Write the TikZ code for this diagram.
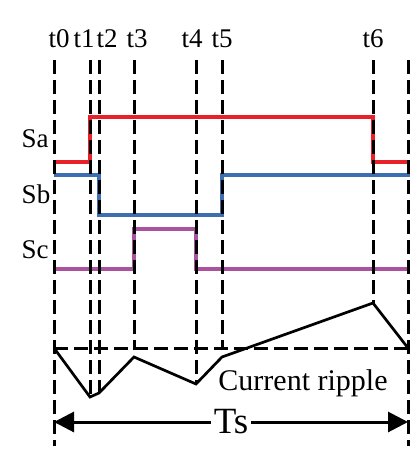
\documentclass[tikz,border=0pt]{standalone}
\usepackage{fontspec}
\setmainfont{Liberation Serif}
\usetikzlibrary{arrows.meta}
\definecolor{sred}{RGB}{232,32,40}
\definecolor{sblue}{RGB}{62,110,178}
\definecolor{spurple}{RGB}{170,82,158}
\begin{document}
\begin{tikzpicture}[x=1pt,y=-1pt,
  vdash/.style={line width=3pt, dash pattern=on 14pt off 6pt},
  sig/.style={line width=4pt, line join=miter},
  lbl/.style={anchor=base, inner sep=0pt, font=\fontsize{27pt}{30pt}\selectfont},
  ripple/.style={line width=2.7pt, line join=miter}]
\useasboundingbox (0,0) rectangle (410,474);
% signals
\draw[sig, sred] (54,162) -- (90,162) -- (90,117) -- (373,117) -- (373,162) -- (410,162);
\draw[sig, sblue] (54,175) -- (99,175) -- (99,215) -- (222,215) -- (222,175) -- (410,175);
\draw[sig, spurple] (54,269) -- (134,269) -- (134,229) -- (196,229) -- (196,269) -- (410,269);
% ripple points
\coordinate (r0) at (54,348);
\coordinate (r1) at (90,397);
\coordinate (r2) at (99,393);
\coordinate (r3) at (134,357);
\coordinate (r4) at (196,384);
\coordinate (r5) at (222,357);
\coordinate (r6) at (373,303);
\coordinate (r7) at (408,348);
% vertical dashed lines
\draw[vdash] (54,60) -- (54,446);
\draw[vdash] (408,60) -- (408,446);
\draw[vdash] (90,60) -- (r1);
\draw[vdash] (99,60) -- (r2);
\draw[vdash] (134,60) -- (134,350);
\draw[vdash] (196,60) -- (r4);
\draw[vdash] (222,60) -- (222,350);
\draw[vdash] (373,60) -- (r6);
% horizontal dashed line
\draw[vdash] (r0) -- (r7);
% ripple
\draw[ripple] (r0) -- (r1) -- (r2) -- (r3) -- (r4) -- (r5) -- (r6) -- (r7);
% labels
\node[lbl] (t0) at (59,47) {t0};
\node[lbl] (t1) at (84,47) {t1};
\node[lbl] (t2) at (107,47) {t2};
\node[lbl] (t3) at (137,47) {t3};
\node[lbl] (t4) at (192,47) {t4};
\node[lbl] (t5) at (222,47) {t5};
\node[lbl] (t6) at (373,47) {t6};
\node[lbl] (sa) at (35,147) {Sa};
\node[lbl] (sb) at (36,203) {Sb};
\node[lbl] (sc) at (35,258) {Sc};
\node[lbl, font=\fontsize{30pt}{33pt}\selectfont] (cr) at (303,390) {Current ripple};
% Ts arrow
\node[inner sep=0pt, font=\fontsize{37pt}{40pt}\selectfont] (ts) at (231,422) {Ts};
\coordinate (al) at (54,422);
\coordinate (ar) at (408,422);
\draw[line width=3pt, -{Triangle[length=20pt,width=20pt]}] ([xshift=-3pt]ts.west) -- (al);
\draw[line width=3pt, -{Triangle[length=20pt,width=20pt]}] ([xshift=3pt]ts.east) -- (ar);
\end{tikzpicture}
\end{document}
